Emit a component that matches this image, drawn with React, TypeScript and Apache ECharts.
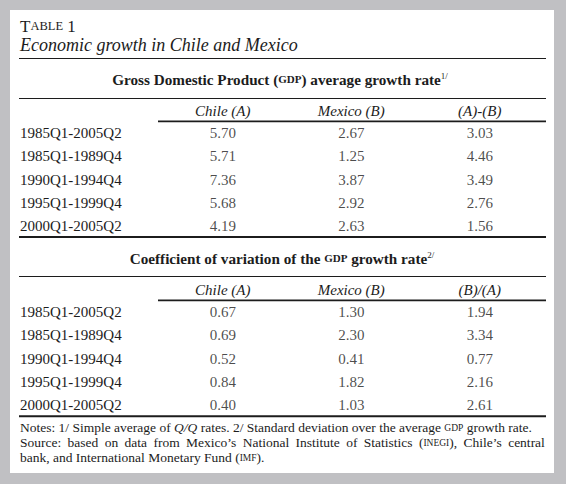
import React, { useEffect, useRef } from 'react';
import * as echarts from 'echarts';

// row labels shared by both panels
const periods = ['1985Q1-2005Q2', '1985Q1-1989Q4', '1990Q1-1994Q4', '1995Q1-1999Q4', '2000Q1-2005Q2'];

// panel 1: GDP average growth rate
const gdpHeaders = ['Chile (A)', 'Mexico (B)', '(A)-(B)'];
const gdpChile = [5.7, 5.71, 7.36, 5.68, 4.19];
const gdpMexico = [2.67, 1.25, 3.87, 2.92, 2.63];
const gdpDiff = [3.03, 4.46, 3.49, 2.76, 1.56];

// panel 2: coefficient of variation
const cvHeaders = ['Chile (A)', 'Mexico (B)', '(B)/(A)'];
const cvChile = [0.67, 0.69, 0.52, 0.84, 0.4];
const cvMexico = [1.3, 2.3, 0.41, 1.82, 1.03];
const cvRatio = [1.94, 3.34, 0.77, 2.16, 2.61];

const FONT = "'Liberation Serif', 'Times New Roman', serif";
const INK = '#1c1c1c';

// [column, row, value] cells for the scatter "table"
const toCells = (cols: number[][]) =>
  cols.flatMap((col, c) => col.map((v, r) => [c + 1, r, v]));

const tok = (size: number, weight = 'normal', style = 'normal', extra: any = {}) => ({
  fontFamily: FONT,
  fontSize: size,
  fontWeight: weight,
  fontStyle: style,
  fill: INK,
  ...extra,
});

// the source line is justified in the original: widen its spaces
const justify = (s: string) =>
  s.split(' ').map((w) => `{n|${w}}`).join('{w| }');

const App: React.FC = () => {
  const chartRef = useRef<HTMLDivElement>(null);

  useEffect(() => {
    if (!chartRef.current) return;
    const chart = echarts.init(chartRef.current, null, { renderer: 'svg' });

    const xAxisFor = (gridIndex: number, headers: string[]) => ({
      gridIndex,
      type: 'category' as const,
      data: ['', ...headers],
      position: 'top' as const,
      axisLine: { show: false },
      axisTick: { show: false },
      splitLine: { show: false },
      axisLabel: {
        interval: 0,
        margin: 3,
        fontFamily: FONT,
        fontSize: 15,
        fontStyle: 'italic' as const,
        color: INK,
      },
    });

    const yAxisFor = (gridIndex: number) => ({
      gridIndex,
      type: 'category' as const,
      data: periods,
      inverse: true,
      axisLine: { show: false },
      axisTick: { show: false },
      splitLine: { show: false },
      axisLabel: {
        interval: 0,
        align: 'left' as const,
        margin: 10,
        fontFamily: FONT,
        fontSize: 15,
        color: INK,
      },
    });

    const cellSeries = (idx: number, cols: number[][]) => ({
      type: 'scatter' as const,
      xAxisIndex: idx,
      yAxisIndex: idx,
      data: toCells(cols),
      symbolSize: 1,
      silent: true,
      itemStyle: { color: 'rgba(0,0,0,0)' },
      label: {
        show: true,
        position: 'inside' as const,
        formatter: (p: any) => p.value[2].toFixed(2),
        fontFamily: FONT,
        fontSize: 15,
        color: INK,
      },
    });

    const rule = (x1: number, y: number, x2: number, w: number) => ({
      type: 'line',
      silent: true,
      shape: { x1, y1: y, x2, y2: y },
      style: { stroke: INK, lineWidth: w },
    });

    const option: echarts.EChartsOption = {
      animation: false,
      backgroundColor: '#c0c0c3',
      grid: [
        { left: 30, right: 22, top: 121.3, height: 116.5 },
        { left: 30, right: 22, top: 300.3, height: 116.5 },
      ],
      xAxis: [xAxisFor(0, gdpHeaders), xAxisFor(1, cvHeaders)],
      yAxis: [yAxisFor(0), yAxisFor(1)],
      series: [
        cellSeries(0, [gdpChile, gdpMexico, gdpDiff]),
        cellSeries(1, [cvChile, cvMexico, cvRatio]),
      ],
      graphic: [
        {
          type: 'rect',
          z: -10,
          silent: true,
          shape: { x: 10, y: 10, width: 544, height: 463 },
          style: { fill: '#ffffff' },
        },
        {
          type: 'text',
          silent: true,
          style: {
            x: 20,
            y: 26,
            text: '{a|T}{b|ABLE}{a| 1}',
            align: 'left',
            verticalAlign: 'middle',
            rich: { a: tok(17), b: tok(12.5) },
          },
        },
        {
          type: 'text',
          silent: true,
          style: {
            x: 20,
            y: 45,
            text: 'Economic growth in Chile and Mexico',
            fontFamily: FONT,
            fontSize: 18,
            fontStyle: 'italic',
            fill: INK,
            align: 'left',
            verticalAlign: 'middle',
          },
        },
        {
          type: 'text',
          silent: true,
          style: {
            x: 280,
            y: 79,
            text: '{b|Gross Domestic Product (}{s|GDP}{b|) average growth rate}{u|1/}',
            align: 'center',
            verticalAlign: 'middle',
            rich: {
              b: tok(15.2, 'bold'),
              s: tok(11, 'bold'),
              u: tok(9, 'normal', 'normal', { verticalAlign: 'top' }),
            },
          },
        },
        {
          type: 'text',
          silent: true,
          style: {
            x: 282,
            y: 258,
            text: '{b|Coefficient of variation of the }{s|GDP}{b| growth rate}{u|2/}',
            align: 'center',
            verticalAlign: 'middle',
            rich: {
              b: tok(15.2, 'bold'),
              s: tok(11, 'bold'),
              u: tok(9, 'normal', 'normal', { verticalAlign: 'top' }),
            },
          },
        },
        {
          type: 'text',
          silent: true,
          style: {
            x: 20,
            y: 420,
            text:
              '{n|Notes: 1/ Simple average of }{i|Q/Q}{n| rates. 2/ Standard deviation over the average }{s|GDP}{n| growth rate.}\n' +
              justify('Source: based on data from Mexico\u2019s National Institute of Statistics') +
              '{w| }{n|(}{s|INEGI}{n|),}{w| }' +
              justify('Chile\u2019s central') +
              '\n' +
              '{n|bank, and International Monetary Fund (}{s|IMF}{n|).}',
            align: 'left',
            verticalAlign: 'top',
            rich: {
              n: tok(13.5, 'normal', 'normal', { lineHeight: 15 }),
              w: tok(13.5, 'normal', 'normal', { lineHeight: 15, padding: [0, 3, 0, 0] }),
              i: tok(13.5, 'normal', 'italic', { lineHeight: 15 }),
              s: tok(9.5, 'normal', 'normal', { lineHeight: 15 }),
            },
          },
        },
        rule(19, 58.5, 546, 1.1),
        rule(19, 98.5, 546, 1.1),
        rule(158, 121.3, 546, 1.8),
        rule(19, 237, 546, 2),
        rule(19, 276.5, 546, 1.1),
        rule(158, 300.3, 546, 1.8),
        rule(19, 416.3, 546, 2),
      ] as any,
    };

    chart.setOption(option);

    return () => {
      chart.dispose();
    };
  }, []);

  return (
    <div
      ref={chartRef}
      style={{ position: 'fixed', left: 0, top: 0, width: 566, height: 484 }}
    />
  );
};

export default App;
